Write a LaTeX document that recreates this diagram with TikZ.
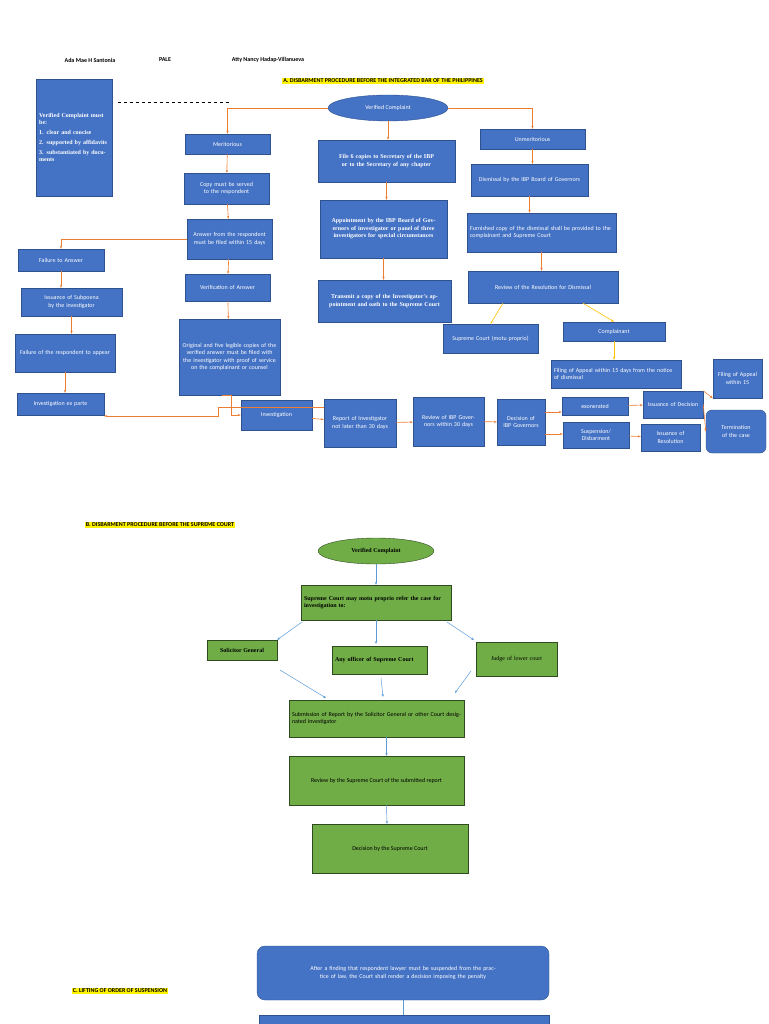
\documentclass[tikz,border=0pt]{standalone}
\usepackage{fontspec}
\setmainfont{Carlito}
\newfontfamily\serifx{Liberation Serif}
\usetikzlibrary{shapes.geometric,arrows.meta}
\definecolor{bb}{HTML}{4472C4}\definecolor{bbd}{HTML}{2F528F}
\definecolor{gg}{HTML}{70AD47}\definecolor{ggd}{HTML}{2E4A1E}
\definecolor{oo}{HTML}{ED7D31}\definecolor{yy}{HTML}{FFC000}\definecolor{lb}{HTML}{5B9BD5}
\tikzset{
 bx/.style={draw=bbd,fill=bb,text=white,font=\fontsize{6}{7.5}\selectfont,align=center,inner sep=1pt},
 gx/.style={draw=ggd,fill=gg,text=black,font=\fontsize{6}{7.5}\selectfont,align=center,inner sep=1pt},
 oa/.style={draw=oo,-{Stealth[length=3pt]},line width=0.6pt},
 ya/.style={draw=yy,-{Stealth[length=3pt]},line width=0.6pt},
 ba/.style={draw=lb,-{Stealth[length=3pt]},line width=0.5pt},
 ttl/.style={fill=yellow,font=\bfseries\fontsize{6}{7}\selectfont,inner sep=1pt},
 hd/.style={font=\bfseries\fontsize{6}{7}\selectfont}
}
\newcommand{\bxn}[6][bx]{\node[#1,minimum width=#4-#2,minimum height=#5-#3,text width=#4-#2-6] (#6) at ({(#2+#4)/2},{(#3+#5)/2})}
\begin{document}
\begin{tikzpicture}[x=1pt,y=-1pt]
\useasboundingbox (0,0) rectangle (768,1024);
\node[hd] (h1) at (90,60) {Ada Mae H Santonia};
\node[hd] (h2) at (165,60) {PALE};
\node[hd] (h3) at (268,60) {Atty Nancy Hadap-Villanueva};
\node[ttl] (ta) at (383,81) {A. DISBARMENT PROCEDURE BEFORE THE INTEGRATED BAR OF THE PHILIPPINES};
\node[bx,minimum width=76,minimum height=117,text width=70,align=left,anchor=north west,font=\serifx\bfseries\fontsize{6}{7}\selectfont] (lb) at (36,79) {Verified Complaint must be:\\[3pt]1. clear and concise\\[3pt]2. supported by affidavits\\[3pt]3. substantiated by documents};
\coordinate (d1) at (118,102); \coordinate (d2) at (230,102);
\draw[dashed,thick] (d1) -- (d2);
\node[ellipse,bx,minimum width=120,minimum height=26] (vc) at (388,108) {Verified Complaint};
\bxn{185}{134}{270}{154}{mer} {Meritorious};
\bxn{184}{173}{269}{204}{copy} {Copy must be served to the respondent};
\bxn{187}{219}{272}{259}{ans} {Answer from the respondent must be filed within 15 days};
\bxn{185}{274}{270}{301}{ver} {Verification of Answer};
\bxn{179}{319}{280}{395}{orig} {Original and five legible copies of the verified answer must be filed with the investigator with proof of service on the complainant or counsel};
\bxn{318}{140}{455}{182}{file} {\serifx\bfseries File 6 copies to Secretary of the IBP or to the Secretary of any chapter};
\bxn{320}{200}{447}{258}{app} {\serifx\bfseries Appointment by the IBP Board of Governors of investigator or panel of three investigators for special circumstances};
\bxn{318}{280}{451}{322}{tra} {\serifx\bfseries Transmit a copy of the Investigator's appointment and oath to the Supreme Court};
\bxn{480}{129}{585}{149}{unm} {Unmeritorious};
\bxn{471}{164}{588}{196}{dis} {Dismissal by the IBP Board of Governors};
\node[bx,minimum width=149,minimum height=39,text width=143,align=left] (fur) at (541.5,232.5) {Furnished copy of the dismissal shall be provided to the complainant and Supreme Court};
\bxn{468}{271}{618}{303}{rev} {Review of the Resolution for Dismissal};
\bxn{443}{324}{538}{353}{scm} {Supreme Court (motu proprio)};
\bxn{563}{322}{665}{341}{cmp} {Complainant};
\node[bx,minimum width=130,minimum height=28,text width=124,align=left] (fa) at (616,374) {Filing of Appeal within 15 days from the notice of dismissal};
\bxn{713}{359}{762}{398}{fa2} {Filing of Appeal within 15};
\bxn{643}{391}{703}{418}{isd} {Issuance of Decision};
\node[bx,rounded corners=6pt,minimum width=60,minimum height=43,text width=54] (ter) at (736,431.5) {Termination of the case};
\bxn{562}{397}{628}{415}{exo} {exonerated};
\bxn{563}{422}{629}{448}{sus} {Suspension/ Disbarment};
\bxn{641}{424}{700}{451}{isr} {Issuance of Resolution};
\bxn{497}{399}{545}{445}{dec} {Decision of IBP Governors};
\bxn{413}{397}{484}{446}{rig} {Review of IBP Governors within 30 days};
\bxn{324}{399}{396}{447}{rep} {Report of Investigator not later than 30 days};
\bxn{241}{400}{312}{430}{inv} {Investigation};
\bxn{18}{249}{104}{271}{fta} {Failure to Answer};
\bxn{21}{288}{122}{316}{sub} {Issuance of Subpoena by the investigator};
\bxn{15}{334}{115}{372}{far} {Failure of the respondent to appear};
\bxn{17}{393}{104}{415}{iep} {Investigation ex parte};
% edges A
\draw[oa] (vc.west) -| (mer.north);
\draw[oa] (vc.south) -- (vc.south |- file.north);
\draw[oa] (vc.east) -| (unm.north);
\draw[oa] (mer) -- (copy); \draw[oa] (copy) -- (ans); \draw[oa] (ans) -- (ver); \draw[oa] (ver) -- (orig);
\draw[oa] (file) -- (file |- app.north); \draw[oa] (app.south) -- (app.south |- tra.north);
\draw[oa] (unm) -- (unm |- dis.north); \draw[oa] (dis) -- (dis |- fur.north); \draw[oa] (fur.south) -- (fur.south |- rev.north);
\draw[ya] (rev.south) ++(-40,0) coordinate (r1) -- (scm.north); 
\draw[ya] (rev.south) ++(40,0) coordinate (r2) -- (cmp.north);
\draw[ya] (cmp.south) -- (cmp.south |- fa.north);
\draw[oa] (ans.west) -| (fta.north);
\draw[oa] (fta) -- (fta |- sub.north); \draw[oa] (sub) -- (sub |- far.north); \draw[oa] (far) -- (far |- iep.north);
\draw[oa] (orig.south) ++(-8,0) coordinate (o1) -| ([xshift=-10pt]inv.west) -- (inv.west);
\draw[oa] (inv) -- (rep); \draw[oa] (rep) -- (rig); \draw[oa] (rig) -- (dec);
\draw[oa] (dec.east) ++(0,-10) coordinate (e1) -- (exo.west |- e1);
\draw[oa] (dec.east) ++(0,12) coordinate (e2) -- (sus.west |- e2);
\draw[oa] (exo) -- (isd); \draw[oa] (sus) -- (isr);
\draw[oa] (isd.north east) -- (fa2.south west);
\draw[oa] (isd.east) -- (ter.west);
\draw[oa] ([yshift=16pt]rep.west) -| (218,416) -- (iep.east |- 0,416);
% Section B
\node[ttl] (tb) at (160,525) {B. DISBARMENT PROCEDURE BEFORE THE SUPREME COURT};
\node[ellipse,gx,minimum width=116,minimum height=26,font=\serifx\bfseries\fontsize{6}{7}\selectfont] (vc2) at (376,551) {Verified Complaint};
\node[gx,minimum width=150,minimum height=35,text width=144,align=left,font=\serifx\bfseries\fontsize{6}{7}\selectfont] (scb) at (376,602.5) {Supreme Court may motu proprio refer the case for investigation to:};
\node[gx,minimum width=70,minimum height=20,font=\serifx\bfseries\fontsize{6}{7}\selectfont] (sol) at (242,650) {Solicitor General};
\node[gx,minimum width=95,minimum height=28,text width=89,align=left,font=\serifx\bfseries\fontsize{6}{7}\selectfont] (any) at (379.5,660) {Any officer of Supreme Court};
\node[gx,minimum width=81,minimum height=34,text width=77,font=\serifx\fontsize{6}{7}\selectfont] (jud) at (516.5,659) {Judge of lower court};
\node[gx,minimum width=175,minimum height=37,text width=169,align=left] (subm) at (376.5,718.5) {Submission of Report by the Solicitor General or other Court designated investigator};
\node[gx,minimum width=175,minimum height=49] (revb) at (376.5,780.5) {Review by the Supreme Court of the submitted report};
\node[gx,minimum width=156,minimum height=49] (decb) at (390,848.5) {Decision by the Supreme Court};
\draw[ba] (vc2) -- (scb);
\draw[ba] (302,622) -- (sol.north east);
\draw[ba] (scb.south) -- (376,644);
\draw[ba] (447,622) -- (474,640);
\draw[ba] (280,670) -- (326,698);
\draw[ba] (381,678) -- (383,697);
\draw[ba] (471,671) -- (455,693);
\draw[ba] (subm.south) ++(10,0) -- ([xshift=10pt]revb.north);
\draw[ba] (revb.south) ++(10,0) -- ([xshift=-3pt]decb.north);
% Section C
\node[ttl] (tc) at (120,991) {C. LIFTING OF ORDER OF SUSPENSION};
\node[bx,rounded corners=8pt,minimum width=292,minimum height=54,text width=280] (c1) at (403,973) {After a finding that respondent lawyer must be suspended from the practice of law, the Court shall render a decision imposing the penalty};
\draw[bbd,fill=bb] (259,1015) rectangle (549,1030);
\coordinate (c2) at (403,1015);
\draw[lb,line width=0.6pt] (c1.south) -- (c2);
\end{tikzpicture}
\end{document}
